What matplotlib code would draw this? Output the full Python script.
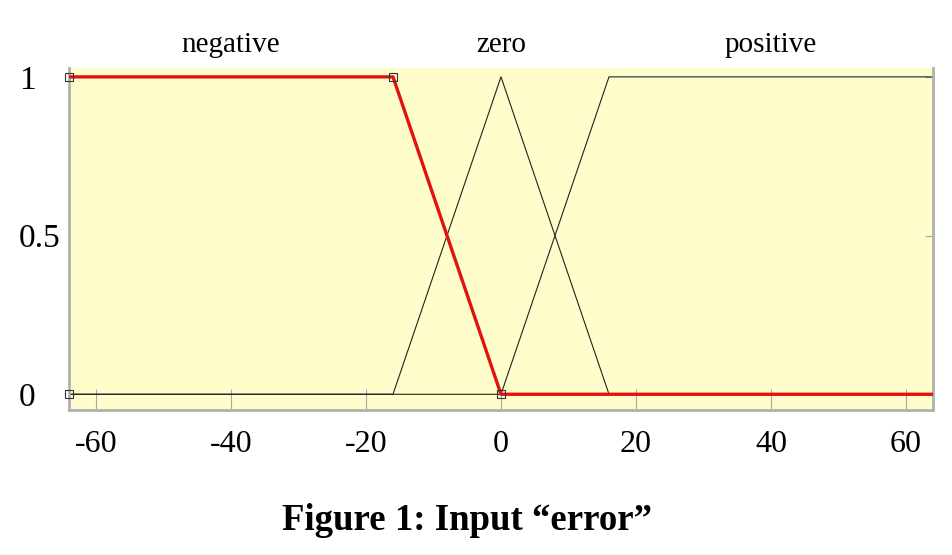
import numpy as np
import matplotlib.pyplot as plt

# membership functions for input "error"
neg_x = [-64, -16, 0, 64]
neg_y = [1, 1, 0, 0]
zero_x = [-64, -16, 0, 16, 64]
zero_y = [0, 0, 1, 0, 0]
pos_x = [-64, 0, 16, 64]
pos_y = [0, 0, 1, 1]

# vertices of the selected MF (negative)
sel_x = [-64, -64, -16, 0]
sel_y = [0, 1, 1, 0]

mf_names = ["negative", "zero", "positive"]
mf_name_x = [-40, 0, 40]

xticks = [-60, -40, -20, 0, 20, 40, 60]
yticks = [0, 0.5, 1]
ytick_labels = ["0", "0.5", "1"]

serif = ["Liberation Serif", "DejaVu Serif"]

fig = plt.figure(figsize=(9.53, 5.55), dpi=100)
ax = fig.add_axes([0.0724, 0.261, 0.9066, 0.6165])
ax.set_facecolor("#fffdcc")

ax.plot(zero_x, zero_y, color="#222222", lw=0.8, zorder=2)
ax.plot(pos_x, pos_y, color="#222222", lw=0.8, zorder=2)
ax.plot(neg_x, neg_y, color="#e0140f", lw=2.4, zorder=3)
ax.plot(sel_x, sel_y, ls="none", marker="s", ms=6, mfc="none",
        mec="#333333", mew=0.8, zorder=4, clip_on=False)

for name, xc in zip(mf_names, mf_name_x):
    ax.text(xc, 1.10, name, ha="center", va="center", fontsize=21,
            family=serif, clip_on=False)

ax.set_xlim(-64, 64)
ax.set_ylim(-0.05, 1.028)
ax.set_xticks(xticks)
ax.set_xticklabels([str(v) for v in xticks], family=serif, fontsize=23)
ax.set_yticks(yticks)
ax.set_yticklabels(ytick_labels, family=serif, fontsize=24, ha="left")

ax.tick_params(axis="x", direction="in", length=15, width=0.8,
               color="#a8a8a8", pad=14)
ax.tick_params(axis="y", direction="in", left=False, right=True,
               length=6, width=0.8, color="#a8a8a8", pad=36)

for side in ["left", "bottom", "right"]:
    ax.spines[side].set_color("#b0b0b0")
    ax.spines[side].set_linewidth(2)
ax.spines["top"].set_visible(False)

fig.text(0.49, 0.063, "Figure 1: Input \u201cerror\u201d", ha="center",
         va="center", fontsize=26.5, fontweight="bold", family=serif)

fig.savefig("out.png", dpi=100, facecolor="white")
